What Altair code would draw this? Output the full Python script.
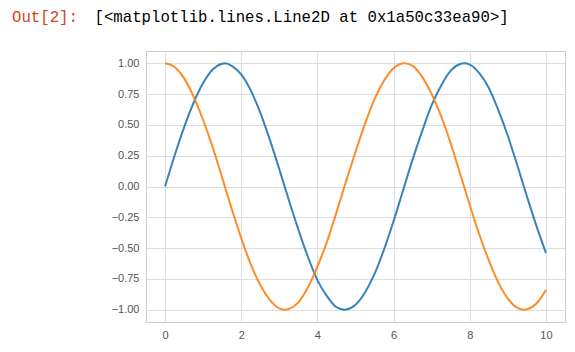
import altair as alt
import pandas as pd

blue_x = [0.0, 0.25, 0.5, 0.75, 1.0, 1.25, 1.5, 1.57, 1.75, 2.0, 2.25, 2.5, 2.75, 3.0, 3.25, 3.5, 3.75,
          4.0, 4.25, 4.5, 4.71, 4.75, 5.0, 5.25, 5.5, 5.75, 6.0, 6.25, 6.5, 6.75, 7.0, 7.25, 7.5, 7.75, 7.85,
          8.0, 8.25, 8.5, 8.75, 9.0, 9.25, 9.5, 9.75, 10.0]
blue_vals = [0.00, 0.25, 0.48, 0.68, 0.84, 0.95, 0.997, 1.00, 0.98, 0.91, 0.78, 0.60, 0.38, 0.14, -0.11, -0.35, -0.57,
             -0.76, -0.89, -0.98, -1.00, -0.999, -0.96, -0.86, -0.71, -0.51, -0.28, -0.03, 0.22, 0.45, 0.66, 0.82, 0.94, 0.995, 1.00,
             0.99, 0.92, 0.80, 0.62, 0.41, 0.17, -0.08, -0.32, -0.54]
orange_x = [0.0, 0.25, 0.5, 0.75, 1.0, 1.25, 1.5, 1.75, 2.0, 2.25, 2.5, 2.75, 3.0, 3.14, 3.25, 3.5, 3.75,
            4.0, 4.25, 4.5, 4.75, 5.0, 5.25, 5.5, 5.75, 6.0, 6.28, 6.5, 6.75, 7.0, 7.25, 7.5, 7.75,
            8.0, 8.25, 8.5, 8.75, 9.0, 9.25, 9.42, 9.5, 9.75, 10.0]
orange_vals = [1.00, 0.97, 0.88, 0.73, 0.54, 0.32, 0.07, -0.18, -0.42, -0.63, -0.80, -0.92, -0.99, -1.00, -0.994, -0.94, -0.82,
               -0.65, -0.45, -0.21, 0.04, 0.28, 0.51, 0.71, 0.86, 0.96, 1.00, 0.98, 0.89, 0.75, 0.57, 0.35, 0.10,
               -0.15, -0.39, -0.60, -0.78, -0.91, -0.985, -1.00, -0.997, -0.95, -0.84]
series_names = ["line 1", "line 2"]
series_colors = ["#1f77b4", "#ff7f0e"]
x_ticks = [0, 2, 4, 6, 8, 10]
y_ticks = [-1.0, -0.75, -0.5, -0.25, 0.0, 0.25, 0.5, 0.75, 1.0]
out_prompt = "Out[2]:"
out_text = "[<matplotlib.lines.Line2D at 0x1a50c33ea90>]"

df = pd.DataFrame({
    "x": blue_x + orange_x,
    "y": blue_vals + orange_vals,
    "s": [series_names[0]] * len(blue_x) + [series_names[1]] * len(orange_x),
})

lines = alt.Chart(df).mark_line(strokeWidth=2, interpolate="monotone", opacity=0.9).encode(
    x=alt.X("x:Q", scale=alt.Scale(domain=[-0.5, 10.5], nice=False, zero=False),
            axis=alt.Axis(values=x_ticks, title=None, format="d")),
    y=alt.Y("y:Q", scale=alt.Scale(domain=[-1.1, 1.1], nice=False, zero=False),
            axis=alt.Axis(values=y_ticks, title=None, format=".2f")),
    color=alt.Color("s:N", scale=alt.Scale(domain=series_names, range=series_colors), legend=None),
)

prompt = alt.Chart(pd.DataFrame({"t": [out_prompt]})).mark_text(
    font="Liberation Mono", fontSize=15.7, color="#d84315", align="left", baseline="alphabetic"
).encode(text="t:N", x=alt.value(-134), y=alt.value(-29))

out = alt.Chart(pd.DataFrame({"t": [out_text]})).mark_text(
    font="Liberation Mono", fontSize=15.7, color="#000000", align="left", baseline="alphabetic"
).encode(text="t:N", x=alt.value(-51.5), y=alt.value(-29))

chart = alt.layer(lines, prompt, out).properties(
    width=419, height=271,
    autosize=alt.AutoSizeParams(type="none"),
    padding={"left": 146, "top": 51, "right": 10, "bottom": 30},
    background="white",
).configure_view(
    stroke="#cccccc", strokeWidth=1
).configure_axis(
    grid=True, gridColor="#dddddd", gridWidth=1,
    domain=False, ticks=False,
    labelFont="Liberation Sans", labelFontSize=11, labelColor="#555555",
    labelPadding=7,
)

chart.save("out.html", embed_options={"renderer": "svg", "actions": False})
